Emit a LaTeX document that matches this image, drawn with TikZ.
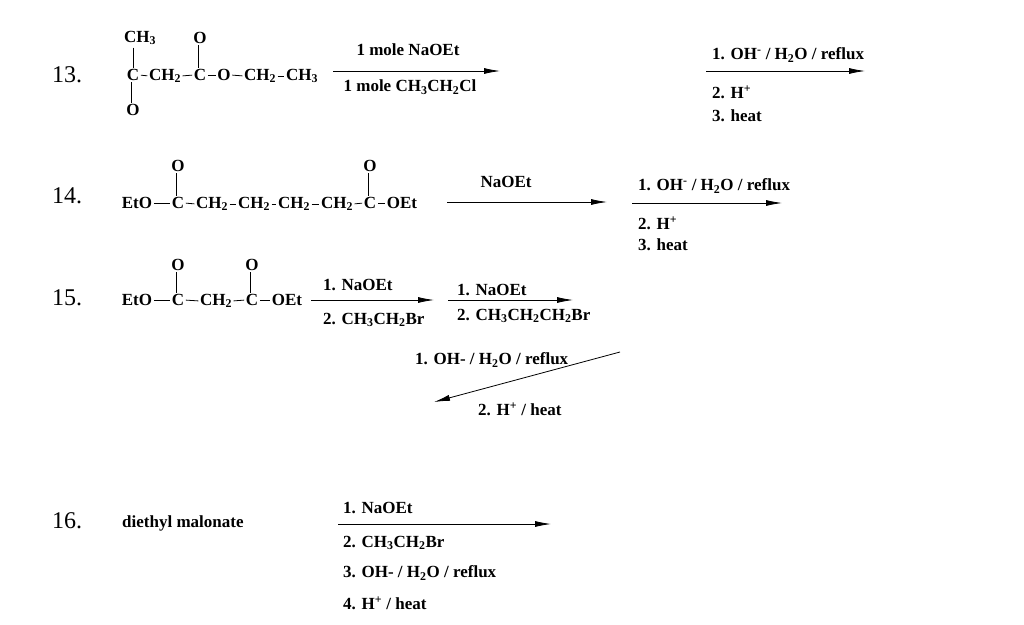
\documentclass[tikz,border=0pt]{standalone}
\usepackage{fontspec}
\setmainfont{Liberation Serif}
\usetikzlibrary{arrows.meta}
\begin{document}
\begin{tikzpicture}[x=1pt,y=-1pt,
  num/.style={font=\fontsize{24}{24}\selectfont, inner sep=0pt},
  t/.style={font=\bfseries\fontsize{17}{17}\selectfont, inner sep=0pt},
  lab/.style={font=\bfseries\fontsize{17}{17}\selectfont, inner sep=0pt, anchor=west},
  arr/.style={-{Latex[length=16pt,width=6pt]}, line width=0.8pt},
  bond/.style={line width=0.8pt, shorten <=1.5pt, shorten >=1.5pt},
  dbl/.style={line width=0.8pt, double distance=3pt, shorten <=1pt, shorten >=1pt}]
\useasboundingbox (0,0) rectangle (1024,624);
\def\tw{\textsubscript{2}}\def\th{\textsubscript{3}}
% 13
\node[num] (n13) at (67,75) {13.};
\node[t] (a1) at (140,38) {CH\th};
\node[t] (c1) at (133,75) {C};
\node[t] (o1) at (133,110) {O};
\node[t] (a2) at (165,76) {CH\tw};
\node[t] (c2) at (200,75) {C};
\node[t] (ot) at (200,38) {O};
\node[t] (o2) at (224,75) {O};
\node[t] (a3) at (260,76) {CH\tw};
\node[t] (a4) at (302,76) {CH\th};
\draw[bond] (133,46) -- (c1.north);
\draw[dbl] (c1.south) -- (o1.north);
\draw[dbl] (ot.south) -- (c2.north);
\draw[bond] (c1.east) -- (a2.west);
\draw[bond] (a2.east) -- (c2.west);
\draw[bond] (c2.east) -- (o2.west);
\draw[bond] (o2.east) -- (a3.west);
\draw[bond] (a3.east) -- (a4.west);
\coordinate (s1) at (333,71); \coordinate (e1) at (500,71);
\draw[arr] (s1) -- (e1);
\node[t] (l1) at (408,50) {1 mole NaOEt};
\node[t] (l2) at (410,87) {1 mole CH\th CH\tw Cl};
\coordinate (s2) at (706,71); \coordinate (e2) at (865,71);
\draw[arr] (s2) -- (e2);
\node[lab] (l3) at (712,55) {1. OH\textsuperscript{-} / H\tw O / reflux};
\node[lab] (l4) at (712,92) {2. H\textsuperscript{+}};
\node[lab] (l5) at (712,116) {3. heat};
% 14
\node[num] (n14) at (67,196) {14.};
\node[t] (b0) at (137,203) {EtO};
\node[t] (b1) at (178,203) {C};
\node[t] (bo1) at (178,166) {O};
\node[t] (b2) at (212,204) {CH\tw};
\node[t] (b3) at (254,204) {CH\tw};
\node[t] (b4) at (294,204) {CH\tw};
\node[t] (b5) at (337,204) {CH\tw};
\node[t] (bc2) at (370,203) {C};
\node[t] (bo2) at (370,166) {O};
\node[t] (b7) at (402,203) {OEt};
\draw[bond] (b0.east) -- (b1.west);
\draw[bond] (b1.east) -- (b2.west);
\draw[bond] (b2.east) -- (b3.west);
\draw[bond] (b3.east) -- (b4.west);
\draw[bond] (b4.east) -- (b5.west);
\draw[bond] (b5.east) -- (bc2.west);
\draw[bond] (bc2.east) -- (b7.west);
\draw[dbl] (bo1.south) -- (b1.north);
\draw[dbl] (bo2.south) -- (bc2.north);
\coordinate (s3) at (447,202); \coordinate (e3) at (607,202);
\draw[arr] (s3) -- (e3);
\node[t] (l6) at (506,182) {NaOEt};
\coordinate (s4) at (632,203); \coordinate (e4) at (782,203);
\draw[arr] (s4) -- (e4);
\node[lab] (l7) at (638,186) {1. OH\textsuperscript{-} / H\tw O / reflux};
\node[lab] (l8) at (638,223) {2. H\textsuperscript{+}};
\node[lab] (l9) at (638,245) {3. heat};
% 15
\node[num] (n15) at (67,298) {15.};
\node[t] (d0) at (137,300) {EtO};
\node[t] (d1) at (178,300) {C};
\node[t] (do1) at (178,265) {O};
\node[t] (d2) at (216,301) {CH\tw};
\node[t] (d3) at (252,300) {C};
\node[t] (do2) at (252,265) {O};
\node[t] (d4) at (287,300) {OEt};
\draw[bond] (d0.east) -- (d1.west);
\draw[bond] (d1.east) -- (d2.west);
\draw[bond] (d2.east) -- (d3.west);
\draw[bond] (d3.east) -- (d4.west);
\draw[dbl] (do1.south) -- (d1.north);
\draw[dbl] (do2.south) -- (d3.north);
\coordinate (s5) at (311,300); \coordinate (e5) at (434,300);
\draw[arr] (s5) -- (e5);
\node[lab] (l10) at (323,285) {1. NaOEt};
\node[lab] (l11) at (323,320) {2. CH\th CH\tw Br};
\coordinate (s6) at (448,300); \coordinate (e6) at (573,300);
\draw[arr] (s6) -- (e6);
\node[lab] (l12) at (457,290) {1. NaOEt};
\node[lab] (l13) at (457,316) {2. CH\th CH\tw CH\tw Br};
\coordinate (s7) at (620,352); \coordinate (e7) at (434,402);
\draw[arr] (s7) -- (e7);
\node[lab] (l14) at (415,360) {1. OH- / H\tw O / reflux};
\node[lab] (l15) at (478,409) {2. H\textsuperscript{+} / heat};
% 16
\node[num] (n16) at (67,521) {16.};
\node[lab] (dm) at (122,523) {diethyl malonate};
\coordinate (s8) at (338,524); \coordinate (e8) at (551,524);
\draw[arr] (s8) -- (e8);
\node[lab] (l16) at (343,508) {1. NaOEt};
\node[lab] (l17) at (343,543) {2. CH\th CH\tw Br};
\node[lab] (l18) at (343,573) {3. OH- / H\tw O / reflux};
\node[lab] (l19) at (343,603) {4. H\textsuperscript{+} / heat};
\end{tikzpicture}
\end{document}
